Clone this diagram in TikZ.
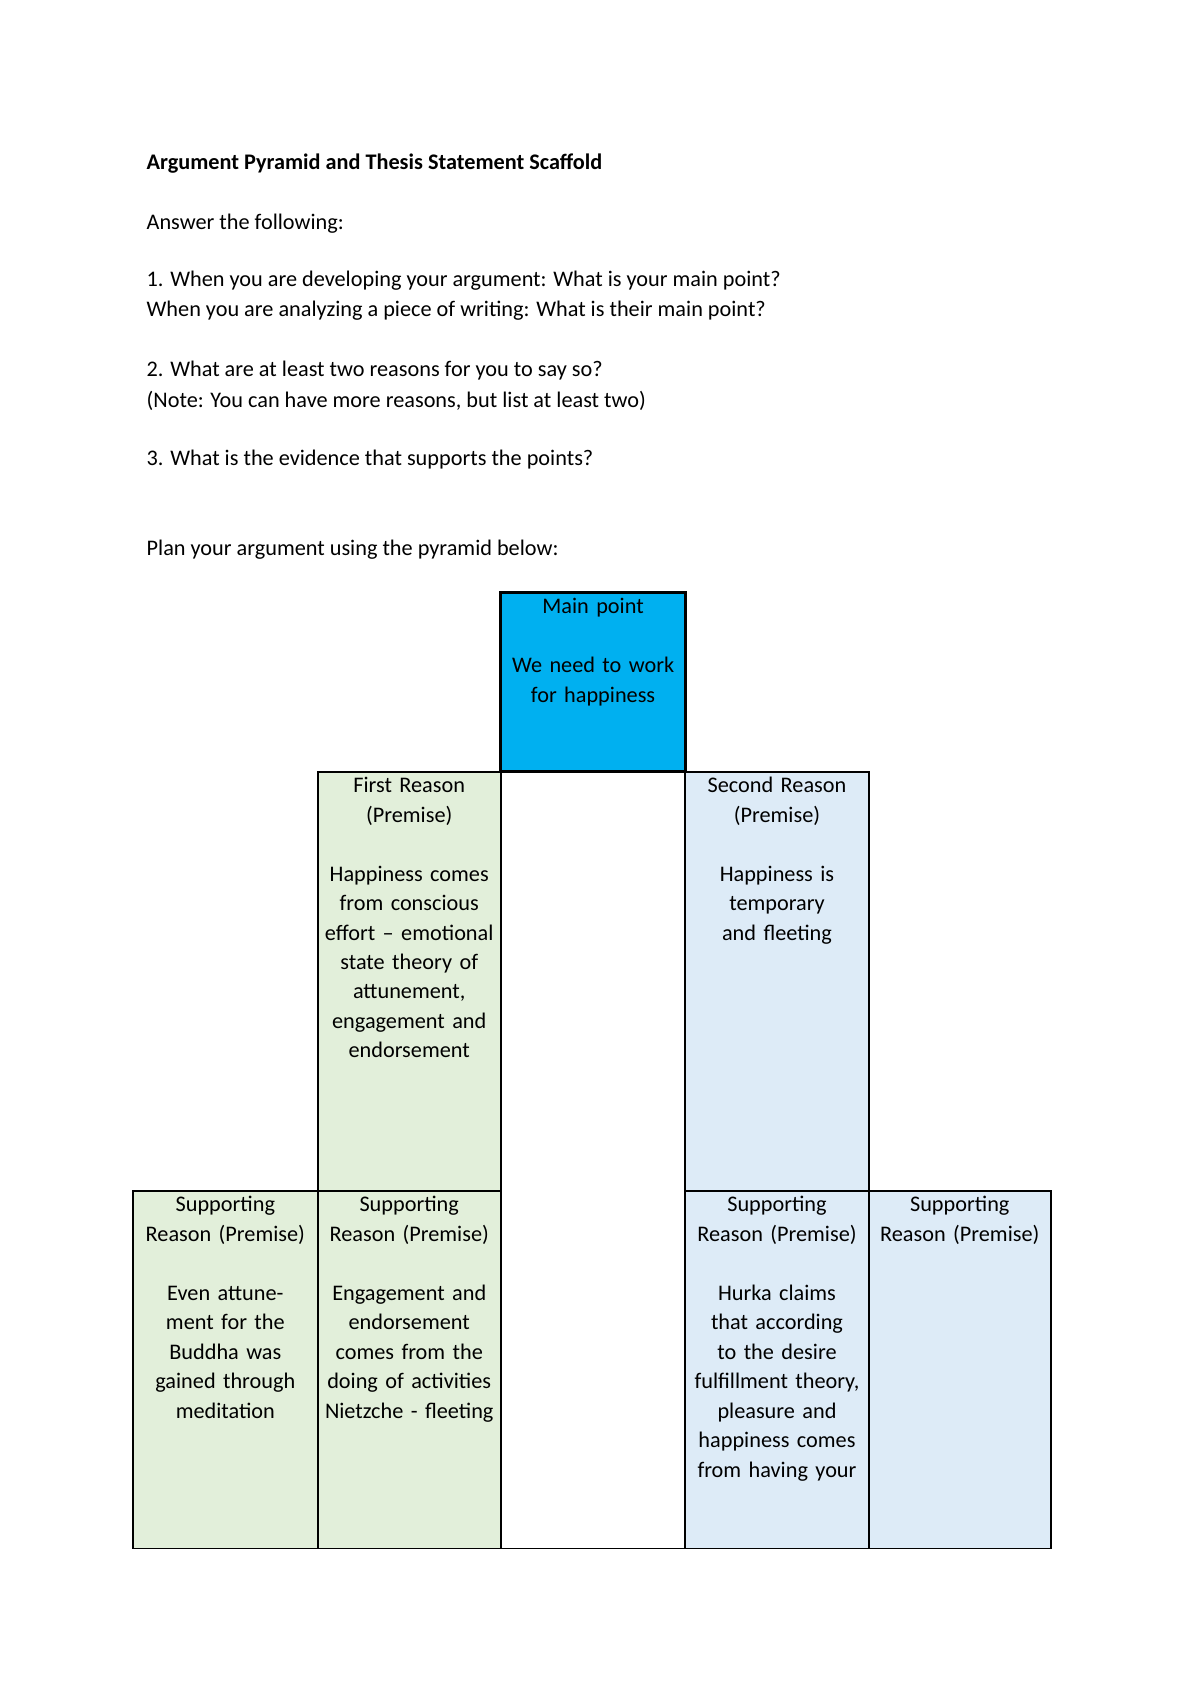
\documentclass[tikz,border=0pt]{standalone}
\usepackage{fontspec}
\setmainfont{Carlito}
\begin{document}
\begin{tikzpicture}[x=0.5pt,y=-0.5pt,
  txt/.style={anchor=base west,inner sep=0pt,font=\fontsize{10.2pt}{13.5pt}\selectfont},
  cell/.style={draw=black,line width=0.9pt},
  ctext/.style={anchor=north,inner sep=0pt,text width=78pt,align=center,font=\fontsize{10.2pt}{13.5pt}\selectfont}]
\useasboundingbox (0,0) rectangle (1100,1556);
\definecolor{mainc}{RGB}{0,176,240}
\definecolor{grn}{RGB}{226,239,218}
\definecolor{blu}{RGB}{221,235,247}
\node[txt,font=\fontsize{10.2pt}{13.5pt}\selectfont\bfseries] (title) at (134,155) {Argument Pyramid and Thesis Statement Scaffold};
\node[txt] (t1) at (134,210) {Answer the following:};
\node[txt] (t2) at (134,263) {1. When you are developing your argument: What is your main point?};
\node[txt] (t3) at (134,290) {When you are analyzing a piece of writing: What is their main point?};
\node[txt] (t4) at (134,345) {2. What are at least two reasons for you to say so?};
\node[txt] (t5) at (134,373) {(Note: You can have more reasons, but list at least two)};
\node[txt] (t6) at (134,427) {3. What is the evidence that supports the points?};
\node[txt] (t7) at (134,509) {Plan your argument using the pyramid below:};
% cells
\filldraw[cell,fill=grn] (291,707) rectangle (459,1091);
\filldraw[cell,fill=blu] (628,707) rectangle (796,1091);
\draw[cell] (459,707) rectangle (628,1419);
\filldraw[cell,fill=grn] (122,1091) rectangle (291,1419);
\filldraw[cell,fill=grn] (291,1091) rectangle (459,1419);
\filldraw[cell,fill=blu] (628,1091) rectangle (796,1419);
\filldraw[cell,fill=blu] (796,1091) rectangle (963,1419);
\filldraw[draw=black,line width=1.3pt,fill=mainc] (459,543) rectangle (628,707);
\node[ctext] (main) at (543.5,548) {Main point\\[13.5pt]We need to work for happiness};
\node[ctext] (r1) at (375,712) {First Reason (Premise)\\[13.5pt]Happiness comes from conscious effort -- emotional state theory of attunement, engagement and endorsement};
\node[ctext] (r2) at (712,712) {Second Reason (Premise)\\[13.5pt]Happiness is temporary and fleeting};
\node[ctext] (s1) at (206.5,1096) {Supporting Reason (Premise)\\[13.5pt]Even attunement for the Buddha was gained through meditation};
\node[ctext] (s2) at (375,1096) {Supporting Reason (Premise)\\[13.5pt]Engagement and endorsement comes from the doing of activities Nietzche - fleeting};
\node[ctext] (s3) at (712,1096) {Supporting Reason (Premise)\\[13.5pt]Hurka claims that according to the desire fulfillment theory, pleasure and happiness comes from having your};
\node[ctext] (s4) at (879.5,1096) {Supporting Reason (Premise)};
\end{tikzpicture}
\end{document}
